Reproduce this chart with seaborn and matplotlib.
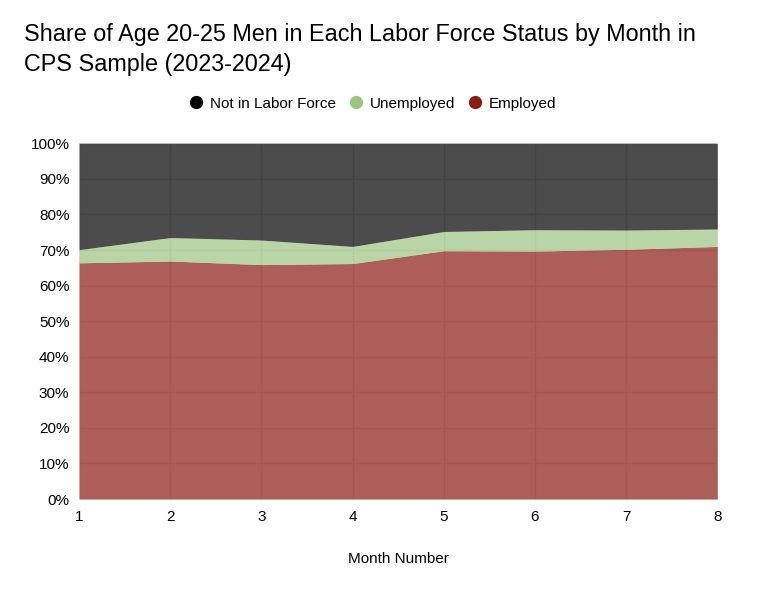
import matplotlib
matplotlib.use("Agg")
import matplotlib.pyplot as plt
import seaborn as sns
import numpy as np
from matplotlib.lines import Line2D
from matplotlib.ticker import PercentFormatter

months = [1, 2, 3, 4, 5, 6, 7, 8]
employed = [66.4, 66.9, 65.9, 66.2, 69.8, 69.7, 70.2, 71.0]
unemployed = [3.7, 6.6, 6.9, 4.8, 5.4, 6.0, 5.4, 4.9]
not_in_lf = [100 - e - u for e, u in zip(employed, unemployed)]
series_names = ["Not in Labor Force", "Unemployed", "Employed"]
colors = {"Not in Labor Force": "#000000", "Unemployed": "#9dc47f", "Employed": "#8b1a12"}

sns.set_theme(style="white")
plt.rcParams['font.family'] = ['Liberation Sans', 'DejaVu Sans']
plt.rcParams['text.color'] = '#000000'
plt.rcParams['axes.labelcolor'] = '#000000'

fig = plt.figure(figsize=(7.68, 5.92), dpi=100)
ax = fig.add_axes([0.103, 0.157, 0.831, 0.601])
ax.set_axisbelow(True)
ax.grid(True, color="#e2e2e2", linewidth=1, zorder=0)

ax.stackplot(months, employed, unemployed, not_in_lf,
             colors=[colors["Employed"], colors["Unemployed"], colors["Not in Labor Force"]],
             alpha=0.7, linewidth=0, zorder=2)

ax.set_xlim(1, 8)
ax.set_ylim(0, 100)
ax.set_xticks(months)
ax.set_yticks(np.arange(0, 101, 10))
ax.yaxis.set_major_formatter(PercentFormatter(decimals=0))
ax.tick_params(axis='y', labelsize=11, colors="#000000", length=0, pad=7)
ax.tick_params(axis='x', labelsize=11, colors="#000000", length=0, pad=8)
for s in ax.spines.values():
    s.set_visible(False)
ax.set_xlabel("Month Number", fontsize=11, labelpad=20, color="#000000")

handles = [Line2D([0], [0], marker='o', linestyle='', markersize=8.5,
                  markerfacecolor=colors[n], markeredgecolor=colors[n]) for n in series_names]
fig.legend(handles, series_names, loc='center', bbox_to_anchor=(0.486, 0.825), ncol=3,
           frameon=False, fontsize=11, handlelength=0.8, handletextpad=0.5, columnspacing=0.9,
           labelcolor="#000000")

fig.text(0.031, 0.961, "Share of Age 20-25 Men in Each Labor Force Status by Month in\nCPS Sample (2023-2024)",
         fontsize=16.8, ha='left', va='top', linespacing=1.38, color="#000000")

fig.savefig("out.png", dpi=100)
